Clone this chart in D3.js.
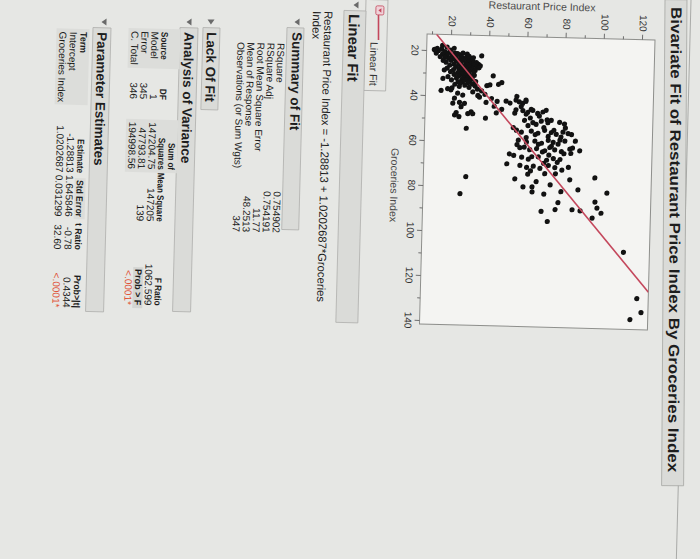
<!DOCTYPE html>
<html><head><meta charset="utf-8">
<script src="https://cdn.jsdelivr.net/npm/d3@7"></script>
<style>
html,body{margin:0;padding:0;background:#e6e7e4;overflow:hidden;}
svg{display:block;font-family:"Liberation Sans",Arial,Helvetica,sans-serif;}
</style></head><body>
<svg id="c" width="700" height="559"></svg>
<script>
// ---------------- data ----------------
const groceries = [
17.8,18.5,19.1,19.4,19.8,18.9,19.6,20.2,20.5,20.7,21.0,21.3,21.6,21.8,20.9,21.4,22.0,22.1,21.2,22.4,
22.6,22.8,23.0,23.2,23.4,23.6,23.8,22.9,23.1,23.9,22.3,24.1,24.3,24.5,24.6,24.8,25.0,25.2,25.3,25.5,
25.7,25.9,24.4,25.1,25.8,26.0,26.2,26.3,26.5,26.7,26.9,27.0,27.2,27.4,27.6,27.8,27.9,26.4,27.3,28.0,
28.2,28.4,28.5,28.7,28.9,29.1,29.3,29.5,29.7,29.9,28.6,30.1,30.3,30.5,30.7,30.9,31.1,31.3,31.6,31.8,
31.9,32.1,32.3,32.6,32.8,33.0,33.3,33.6,33.8,32.4,33.5,34.1,34.3,34.6,34.9,35.2,35.5,35.8,36.1,36.5,
36.8,
19.9,37.8,36.9,37.4,38.8,39.6,38.1,39.6,40.3,41.1,43.3,42.9,44.8,43.3,42.6,47.0,47.8,47.8,47.5,48.5,
49.2,47.1,49.6,22.0,30.7,33.6,34.4,35.1,34.8,39.6,41.8,42.6,47.0,45.5,42.6,41.1,37.5,39.0,40.8,42.0,
44.2,45.5,83.4,75.8,54.3,
41.2,42.0,41.7,45.8,46.5,45.6,46.9,46.2,45.4,50.1,51.0,50.3,50.9,49.8,50.6,51.3,54.6,55.4,54.8,55.7,
54.3,55.2,56.0,54.9,55.5,59.0,59.8,59.2,60.1,58.7,59.6,60.3,58.9,62.3,63.1,62.5,63.4,61.9,62.9,63.6,
62.4,63.0,66.5,67.3,66.2,67.6,66.8,67.1,70.2,71.0,70.4,71.3,69.9,70.8,70.5,
53.5,61.0,65.2,65.8,44.0,45.2,47.3,48.1,49.0,49.6,51.8,52.4,53.1,54.2,56.3,57.0,57.8,58.5,60.6,61.4,
62.0,63.9,64.5,65.3,66.2,68.4,69.0,71.8,72.5,73.6,57.1,61.9,74.0,77.2,82.7,78.5,73.5,53.1,55.9,64.3,
58.8,
69.6,76.2,79.7,79.6,81.8,90.4,94.8,89.4,86.3,81.4,76.0,80.4,89.3,89.7,92.8,74.9,85.6,88.3,90.5,81.5,
107.6,128.0,134.2,137.4
];
const restaurant = [
15.2,17.6,12.4,14.8,19.5,21.3,10.9,13.1,16.4,18.9,21.7,12.0,15.3,24.6,26.0,28.2,17.8,20.3,23.1,22.5,
25.3,14.1,27.4,30.1,18.6,21.0,24.2,31.5,16.5,28.7,29.2,26.3,19.8,31.2,22.7,29.0,33.1,17.3,25.0,27.6,
30.4,21.4,15.7,32.0,34.2,24.1,28.3,31.8,19.2,26.7,33.5,22.4,29.7,25.3,31.0,17.9,27.8,35.2,34.6,24.0,
30.3,21.2,32.6,27.1,25.4,29.2,19.7,31.8,23.5,27.0,16.4,25.6,29.4,21.6,32.2,27.9,24.0,30.6,18.4,26.5,
28.8,22.9,31.1,25.7,28.1,20.3,30.0,26.2,23.8,15.8,33.0,28.9,25.0,31.4,22.1,27.4,32.8,24.5,29.6,20.7,
34.0,
11.3,15.0,18.4,20.2,23.7,26.4,31.6,34.3,35.2,22.1,21.3,24.8,25.7,27.4,38.7,31.0,29.3,31.9,23.2,22.4,
24.7,44.2,38.6,35.8,42.1,46.7,45.0,38.9,40.5,54.8,49.2,51.3,53.9,54.5,57.9,59.6,36.2,38.0,41.5,44.5,
43.0,47.0,26.3,29.1,28.7,
54.4,56.1,59.6,58.1,60.7,63.3,65.9,68.6,70.3,59.1,63.5,67.9,71.4,73.1,77.5,80.1,55.0,57.6,62.8,66.3,
69.8,73.3,75.9,79.4,82.1,56.1,60.4,64.8,68.3,71.8,74.4,77.0,80.5,57.0,62.2,65.8,70.1,72.7,75.3,78.8,
83.2,88.4,58.1,61.6,66.8,71.2,74.7,78.2,57.3,60.8,64.3,67.8,72.2,75.6,82.7,
53.3,55.5,51.6,53.9,57.2,62.4,59.9,66.8,62.1,70.9,65.2,61.0,69.3,74.6,64.9,71.7,60.2,77.9,66.7,73.5,
59.3,68.9,80.2,72.3,63.4,76.8,69.7,79.3,62.9,70.4,78.4,84.6,61.5,66.0,70.2,73.4,76.0,80.6,83.9,83.8,
86.0,
50.4,54.8,59.2,63.9,64.0,69.0,72.4,76.3,77.7,79.1,83.6,88.0,85.2,89.4,95.8,96.7,97.1,98.2,100.4,103.2,
112.7,120.3,122.7,117.0
];
const fitIntercept = -1.28813, fitSlope = 1.0202687;
const xTicks = [20,40,60,80,100,120,140];
const xMinor = [30,50,70,90,110,130];
const yTicks = [20,40,60,80,100,120];
const yMinor = [10,30,50,70,90,110];
const xDomain = [12.9, 141.8], yDomain = [6.9, 126.3];

const summaryLabels = ["RSquare","RSquare Adj","Root Mean Square Error","Mean of Response","Observations (or Sum Wgts)"];
const summaryValues = ["0.754902","0.754191","11.77","48.2513","347"];

const anovaSource = ["Model","Error","C. Total"];
const anovaDF = ["1","345","346"];
const anovaSS = ["147204.75","47793.81","194998.56"];
const anovaMS = ["147205","139",""];
const anovaF = ["1062.599","Prob > F","<.0001*"];

const paramTerms = ["Intercept","Groceries Index"];
const paramEst = ["-1.28813","1.0202687"];
const paramSE = ["1.645846","0.031299"];
const paramT = ["-0.78","32.60"];
const paramP = ["0.4344","<.0001*"];

// ---------------- frame (page rotated ~91.5 deg) ----------------
const svg = d3.select('#c');
svg.append('rect').attr('width',700).attr('height',559).attr('fill','#e6e7e4');
const DEG = 1.5;
const sn = Math.sin(DEG*Math.PI/180), cs = Math.cos(DEG*Math.PI/180);
const TX = 700, TY = 0;
const P = (sx, sy) => { const dx = sx-TX, dy = sy-TY; return [-dx*sn + dy*cs, -dx*cs - dy*sn]; };
const root = svg.append('g').attr('transform', `translate(${TX},${TY}) rotate(${90+DEG})`);
const INK = '#1d1d1d';
const HEAD = 9.4;

function txt(u, v, s, o = {}, parent = root) {
  const t = parent.append('text').attr('x', u).attr('y', v).text(s)
    .attr('font-size', o.size || 10).attr('fill', o.fill || INK)
    .attr('font-weight', o.bold ? 'bold' : 'normal');
  if (o.anchor) t.attr('text-anchor', o.anchor);
  if (o.len) t.attr('textLength', o.len).attr('lengthAdjust', 'spacingAndGlyphs');
  return t;
}
function stxt(sx, sy, s, o) { const [u, v] = P(sx, sy); return txt(u, v, s, o); }
function sbox(sxL, sxR, syS, syE, fill, stroke, parent = root) {
  const [u, v] = P(sxR, syS);
  parent.append('rect').attr('x', u).attr('y', v).attr('width', syE - syS).attr('height', sxR - sxL)
    .attr('fill', fill).attr('stroke', stroke || 'none').attr('stroke-width', 0.8);
}
function tri(sx, sy, open) {
  const [u, v] = P(sx, sy);
  const d = open ? `M${u-3.5},${v-2.5}L${u+3.5},${v-2.5}L${u},${v+2.5}Z`
                 : `M${u-2.5},${v-3.5}L${u+2.5},${v}L${u-2.5},${v+3.5}Z`;
  root.append('path').attr('d', d).attr('fill', '#6a6a6a');
}

// outer frame line
{ const [u, v] = P(691, 0); root.append('line').attr('x1', u).attr('y1', v).attr('x2', u + 570).attr('y2', v).attr('stroke', '#9a9b98').attr('stroke-width', 0.8); }

// title (this part of the photo is tilted a little less)
{ const [u0, v0] = P(676, 0);
  const tg = root.append('g').attr('transform', `rotate(-1.1,${u0},${v0})`);
  sbox(665, 687, 0, 486, '#dadbd8', '#a5a6a3', tg);
  const [u, v] = P(671, 7);
  txt(u, v, 'Bivariate Fit of Restaurant Price Index By Groceries Index', { size: 15, bold: true, len: 465 }, tg); }

// ---------------- plot ----------------
const [pu, pv] = P(655, 40);
const PW = 290, PH = 228;
const x = d3.scaleLinear().domain(xDomain).range([pu, pu + PW]);
const y = d3.scaleLinear().domain(yDomain).range([pv + PH, pv]);

root.append('rect').attr('x', pu).attr('y', pv).attr('width', PW).attr('height', PH)
  .attr('fill', '#f4f4f2').attr('stroke', '#8e8f8c').attr('stroke-width', 1);

const clipId = 'pclip';
root.append('clipPath').attr('id', clipId).append('rect')
  .attr('x', pu).attr('y', pv).attr('width', PW).attr('height', PH);

root.append('g').attr('transform', `translate(0,${pv + PH})`)
  .call(d3.axisBottom(x).tickValues(xTicks).tickSize(5).tickPadding(3).tickFormat(d3.format('d')));
root.append('g').attr('transform', `translate(0,${pv + PH})`)
  .call(d3.axisBottom(x).tickValues(xMinor).tickSize(3).tickFormat(''));
root.append('g').attr('transform', `translate(${pu},0)`)
  .call(d3.axisLeft(y).tickValues(yTicks).tickSize(5).tickPadding(3).tickFormat(d3.format('d')));
root.append('g').attr('transform', `translate(${pu},0)`)
  .call(d3.axisLeft(y).tickValues(yMinor.filter(d => d >= yDomain[0])).tickSize(3).tickFormat(''));
root.selectAll('.domain').remove();
root.selectAll('.tick line').attr('stroke', '#6f6f6f');
root.selectAll('.tick text').attr('fill', '#333').attr('font-size', 10)
  .attr('font-family', '"Liberation Sans",Arial,sans-serif');

// axis titles
{ const [u, v] = P(542, 10);
  root.append('text').attr('transform', `translate(${u},${v}) rotate(-90)`).attr('text-anchor', 'middle')
    .attr('font-size', 10.5).attr('fill', '#4a4a4a').text('Restaurant Price Index'); }
{ const [u, v] = P(390.5, 185);
  txt(u, v, 'Groceries Index', { size: 10.5, anchor: 'middle', fill: '#4a4a4a' }); }

// points
const pts = groceries.map((g, i) => [g, restaurant[i]]);
const plotG = root.append('g').attr('clip-path', `url(#${clipId})`);
plotG.selectAll('circle').data(pts).join('circle')
  .attr('cx', d => x(d[0])).attr('cy', d => y(d[1])).attr('r', 2.6).attr('fill', '#121212');

// fit line
const xEnd = Math.min(xDomain[1], (yDomain[1] - fitIntercept) / fitSlope);
const fitPts = [xDomain[0], xEnd].map(g => [g, fitIntercept + fitSlope * g]);
plotG.append('path').attr('d', d3.line().x(d => x(d[0])).y(d => y(d[1]))(fitPts))
  .attr('stroke', '#c4475c').attr('stroke-width', 1.6).attr('fill', 'none');

// ---------------- legend ----------------
sbox(366, 388, 0, 91, 'none', '#a9aaa7');
{ const [u, v] = P(384, 6);
  root.append('rect').attr('x', u).attr('y', v).attr('width', 9).attr('height', 8).attr('rx', 1.5)
    .attr('fill', '#efd2d8').attr('stroke', '#c4475c').attr('stroke-width', 0.8);
  root.append('path').attr('d', `M${u+2.2},${v+2.5}L${u+6.8},${v+2.5}L${u+4.5},${v+5.5}Z`).attr('fill', '#c4475c'); }
{ const [u1, v1] = P(378.5, 15); const [u2, v2] = P(378.5, 40);
  root.append('line').attr('x1', u1).attr('y1', v1).attr('x2', u2).attr('y2', v2)
    .attr('stroke', '#c4475c').attr('stroke-width', 1.6); }
stxt(370.5, 42, 'Linear Fit', { size: 10.5, fill: '#333' });

// ---------------- report ----------------
// Linear Fit outline
tri(356, 5, true);
sbox(344, 366, 11, 323, '#dadbd8', '#aeafac');
stxt(349, 14, 'Linear Fit', { size: 15, bold: true });
stxt(324.5, 11, 'Restaurant Price Index = -1.28813 + 1.0202687*Groceries', { size: 11.5, len: 291 });
stxt(313, 11, 'Index', { size: 11.5 });

// Summary of Fit
tri(297, 22, true);
sbox(287, 304, 28, 230, '#dadbd8', '#aeafac');
stxt(292.5, 32, 'Summary of Fit', { size: 13.5, bold: true });
{ const [u0, v0] = P(277.5, 43);
  summaryLabels.forEach((s, i) => txt(u0, v0 + i * 10, s, { size: 10 }));
  summaryValues.forEach((s, i) => txt(u0 + 190, v0 + i * 10, s, { size: 10, anchor: 'end' })); }

// Lack Of Fit
tri(211, 22, false);
sbox(203, 220, 28, 110, '#dadbd8', '#aeafac');
stxt(207, 32, 'Lack Of Fit', { size: 13.5, bold: true });

// Analysis of Variance
tri(189, 22, true);
sbox(180, 198, 28, 312, '#dadbd8', '#aeafac');
stxt(184.5, 32, 'Analysis of Variance', { size: 13.5, bold: true });
{ const [u0, v0] = P(171.5, 32);
  // shaded columns
  root.append('rect').attr('x', u0 - 3).attr('y', v0 - 9).attr('width', 40).attr('height', 52).attr('fill', '#dcddda');
  root.append('rect').attr('x', u0 + 88).attr('y', v0 - 9).attr('width', 53).attr('height', 52).attr('fill', '#dcddda');
  root.append('rect').attr('x', u0 + 236).attr('y', v0 + 22).attr('width', 41).attr('height', 10).attr('fill', '#d4d5d2');
  const H = { size: HEAD, bold: true, anchor: 'end' };
  txt(u0 + 138, v0, 'Sum of', { ...H, len: 27 });
  txt(u0, v0 + 10, 'Source', { size: HEAD, bold: true, len: 28 });
  txt(u0 + 68, v0 + 10, 'DF', { ...H, len: 11 });
  txt(u0 + 138, v0 + 10, 'Squares', { ...H, len: 32 });
  txt(u0 + 190, v0 + 10, 'Mean Square', { ...H, len: 49 });
  txt(u0 + 274, v0 + 10, 'F Ratio', { ...H, len: 28 });
  anovaSource.forEach((s, i) => txt(u0, v0 + 20 + i * 10, s, { size: 10 }));
  anovaDF.forEach((s, i) => txt(u0 + 68, v0 + 20 + i * 10, s, { size: 10, anchor: 'end' }));
  anovaSS.forEach((s, i) => txt(u0 + 138, v0 + 20 + i * 10, s, { size: 10, anchor: 'end' }));
  anovaMS.forEach((s, i) => txt(u0 + 190, v0 + 20 + i * 10, s, { size: 10, anchor: 'end' }));
  anovaF.forEach((s, i) => txt(u0 + 274, v0 + 20 + i * 10, s,
    i === 1 ? { ...H, len: 36 } : { size: 10, anchor: 'end', fill: i === 2 ? '#e0553a' : INK })); }

// Parameter Estimates
tri(104, 22, true);
sbox(93, 111, 28, 312, '#dadbd8', '#aeafac');
stxt(97.5, 32, 'Parameter Estimates', { size: 13.5, bold: true });
{ const [u0, v0] = P(80.5, 32);
  root.append('rect').attr('x', u0 - 3).attr('y', v0 - 9).attr('width', 76).attr('height', 33).attr('fill', '#dcddda');
  root.append('rect').attr('x', u0 + 146).attr('y', v0 - 9).attr('width', 41).attr('height', 11).attr('fill', '#dcddda');
  const H = { size: HEAD, bold: true, anchor: 'end' };
  txt(u0, v0, 'Term', { size: HEAD, bold: true, len: 21 });
  txt(u0 + 141, v0, 'Estimate', { ...H, len: 34 });
  txt(u0 + 185, v0, 'Std Error', { ...H, len: 37 });
  txt(u0 + 218, v0, 't Ratio', { ...H, len: 27 });
  txt(u0 + 276, v0, 'Prob>|t|', { ...H, len: 33 });
  paramTerms.forEach((s, i) => txt(u0, v0 + 10.5 + i * 10.5, s, { size: 10 }));
  paramEst.forEach((s, i) => txt(u0 + 141, v0 + 10.5 + i * 10.5, s, { size: 10, anchor: 'end' }));
  paramSE.forEach((s, i) => txt(u0 + 185, v0 + 10.5 + i * 10.5, s, { size: 10, anchor: 'end' }));
  paramT.forEach((s, i) => txt(u0 + 218, v0 + 10.5 + i * 10.5, s, { size: 10, anchor: 'end' }));
  paramP.forEach((s, i) => txt(u0 + 276, v0 + 10.5 + i * 10.5, s,
    { size: 10, anchor: 'end', fill: s.startsWith('<') ? '#e0553a' : INK })); }
</script>
</body></html>
